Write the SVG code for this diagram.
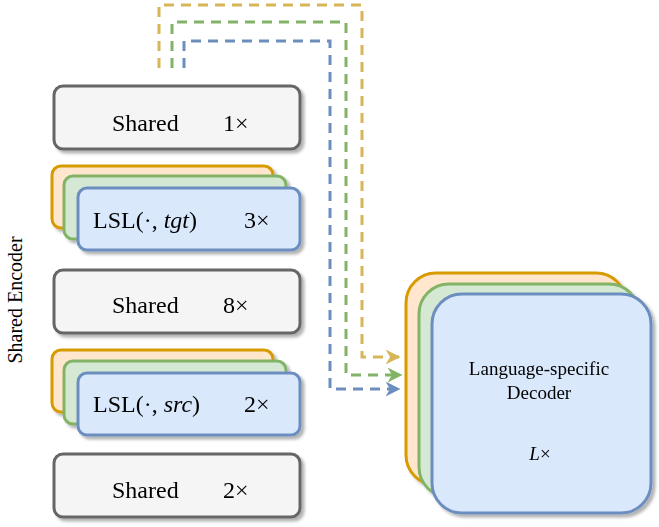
<svg xmlns="http://www.w3.org/2000/svg" width="659" height="527" viewBox="0 0 659 527">
<defs>
<style>
text{font-family:"Liberation Serif",serif;fill:#000}
.b{font-size:24px}
.sh{fill:#f5f5f5;stroke:#666;stroke-width:3}
.o{fill:#ffe6cc;stroke:#d79b00;stroke-width:3}
.g{fill:#d5e8d4;stroke:#82b366;stroke-width:3}
.u{fill:#dae8fc;stroke:#6c8ebf;stroke-width:3}
.d{fill:none;stroke-width:3;stroke-dasharray:10 7}
</style>
<filter id="s" x="-10%" y="-10%" width="130%" height="130%"><feDropShadow dx="3" dy="3" stdDeviation="1.5" flood-color="#000" flood-opacity="0.3"/></filter>
<marker id="ay" viewBox="0 0 10 10" refX="9" refY="5" markerWidth="5" markerHeight="5" orient="auto"><path d="M0,0 L10,5 L0,10 L3,5z" fill="#d6b656"/></marker>
<marker id="ag" viewBox="0 0 10 10" refX="9" refY="5" markerWidth="5" markerHeight="5" orient="auto"><path d="M0,0 L10,5 L0,10 L3,5z" fill="#82b366"/></marker>
<marker id="ab" viewBox="0 0 10 10" refX="9" refY="5" markerWidth="5" markerHeight="5" orient="auto"><path d="M0,0 L10,5 L0,10 L3,5z" fill="#6c8ebf"/></marker>
</defs>
<g id="connectors">
<path class="d" stroke="#d6b656" d="M159,68 V5 H362 V357 H399" marker-end="url(#ay)"/>
<path class="d" stroke="#82b366" d="M172,68 V22 H346 V375 H401" marker-end="url(#ag)"/>
<path class="d" stroke="#6c8ebf" d="M184,68 V41 H330 V389 H399" marker-end="url(#ab)"/>
</g>
<text x="22" y="300" font-size="20" text-anchor="middle" transform="rotate(-90 22 300)">Shared Encoder</text>
<g id="shared1" filter="url(#s)"><rect class="sh" x="54" y="86" width="246" height="63" rx="9"/><text class="b" x="112" y="131">Shared</text><text class="b" x="223" y="131">1×</text></g>
<g id="lsl_tgt" filter="url(#s)">
<rect class="o" x="52" y="166" width="221" height="62" rx="9"/>
<rect class="g" x="64" y="176" width="222" height="63" rx="9"/>
<rect class="u" x="78" y="188" width="222" height="62" rx="9"/>
<text class="b" x="93" y="228">LSL(·, <tspan font-style="italic">tgt</tspan>)</text><text class="b" x="244" y="228">3×</text></g>
<g id="shared8" filter="url(#s)"><rect class="sh" x="54" y="270" width="246" height="63" rx="9"/><text class="b" x="112" y="313">Shared</text><text class="b" x="223" y="313">8×</text></g>
<g id="lsl_src" filter="url(#s)">
<rect class="o" x="52" y="350" width="221" height="62" rx="9"/>
<rect class="g" x="64" y="361" width="222" height="63" rx="9"/>
<rect class="u" x="78" y="373" width="222" height="62" rx="9"/>
<text class="b" x="93" y="412">LSL(·, <tspan font-style="italic">src</tspan>)</text><text class="b" x="244" y="412">2×</text></g>
<g id="shared2" filter="url(#s)"><rect class="sh" x="54" y="454" width="246" height="63" rx="9"/><text class="b" x="112" y="498">Shared</text><text class="b" x="223" y="498">2×</text></g>
<g id="decoder" filter="url(#s)">
<rect class="o" x="406" y="273" width="220" height="212" rx="30"/>
<rect class="g" x="419" y="284" width="220" height="213" rx="30"/>
<rect class="u" x="432" y="294" width="219" height="219" rx="30"/>
<text x="539" y="375" font-size="19" text-anchor="middle">Language-specific</text>
<text x="539" y="399" font-size="19" text-anchor="middle">Decoder</text>
<text x="540" y="460" font-size="19" text-anchor="middle"><tspan font-style="italic">L</tspan>×</text>
</g>
</svg>
